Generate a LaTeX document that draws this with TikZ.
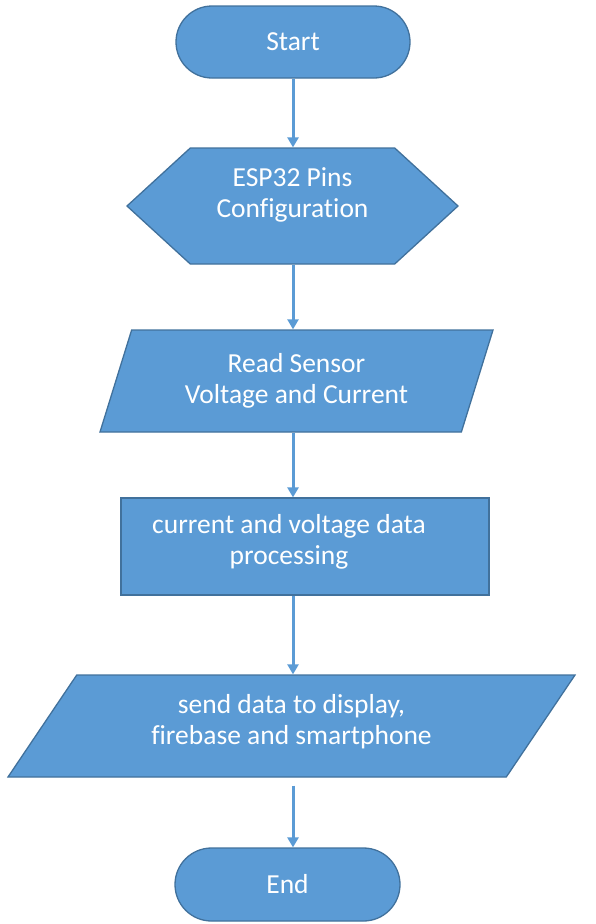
\documentclass[tikz,border=0pt]{standalone}
\usepackage{fontspec}
\setmainfont{Carlito}[Ligatures=NoCommon]
\usetikzlibrary{shapes.geometric,shapes.misc,shapes.symbols,arrows.meta}
\definecolor{boxblue}{HTML}{5B9BD5}
\definecolor{boxedge}{HTML}{41719C}
\newcommand{\lift}[1]{\rule[-#1]{0pt}{0pt}}
\tikzset{
  blk/.style={draw=boxedge, line width=1.3pt, fill=boxblue, text=white, inner sep=0pt,
    align=center, font=\fontsize{27.5pt}{31pt}\selectfont},
  term/.style={blk, rounded rectangle},
  prep/.style={blk, signal, signal to=west and east, signal pointer angle=85},
  io/.style={blk, trapezium, trapezium stretches body},
  proc/.style={blk, rectangle},
  flow/.style={draw=boxblue, line width=3pt, -{Triangle[width=11pt,length=10pt]}}
}
\begin{document}
\begin{tikzpicture}[x=1pt, y=-1pt]
  \useasboundingbox (0,0) rectangle (595,924);
  \coordinate (axis) at (293,0);
  \node[term, minimum width=234pt, minimum height=72pt] (start) at (293,42) {Start};
  \node[prep, minimum width=331pt, minimum height=116pt] (cfg) at (292.5,206)
    {ESP32 Pins\\Configuration\lift{27pt}};
  \node[io, trapezium left angle=60, trapezium right angle=120,
    minimum width=393pt, minimum height=102pt] (read) at (296.5,381)
    {Read Sensor\\Voltage and Current};
  \node[proc, minimum width=368pt, minimum height=97pt] (calc) at (305,546.5)
    {current and voltage data\hspace*{32pt}\\processing\hspace*{32pt}\lift{15pt}};
  \node[io, trapezium left angle=43, trapezium right angle=137,
    minimum width=567pt, minimum height=102pt] (send) at (291.5,726)
    {send data to display,\\firebase and smartphone\lift{14pt}};
  \node[term, minimum width=225pt, minimum height=73pt] (stop) at (287.5,884.5) {End};
  \draw[flow] (start.south -| axis) -- (cfg.north -| axis);
  \draw[flow] (cfg.south -| axis) -- (read.north -| axis);
  \draw[flow] (read.south -| axis) -- (calc.north -| axis);
  \draw[flow] (calc.south -| axis) -- (send.north -| axis);
  \draw[flow, shorten <=8pt] (send.south -| axis) -- (stop.north -| axis);
\end{tikzpicture}
\end{document}
